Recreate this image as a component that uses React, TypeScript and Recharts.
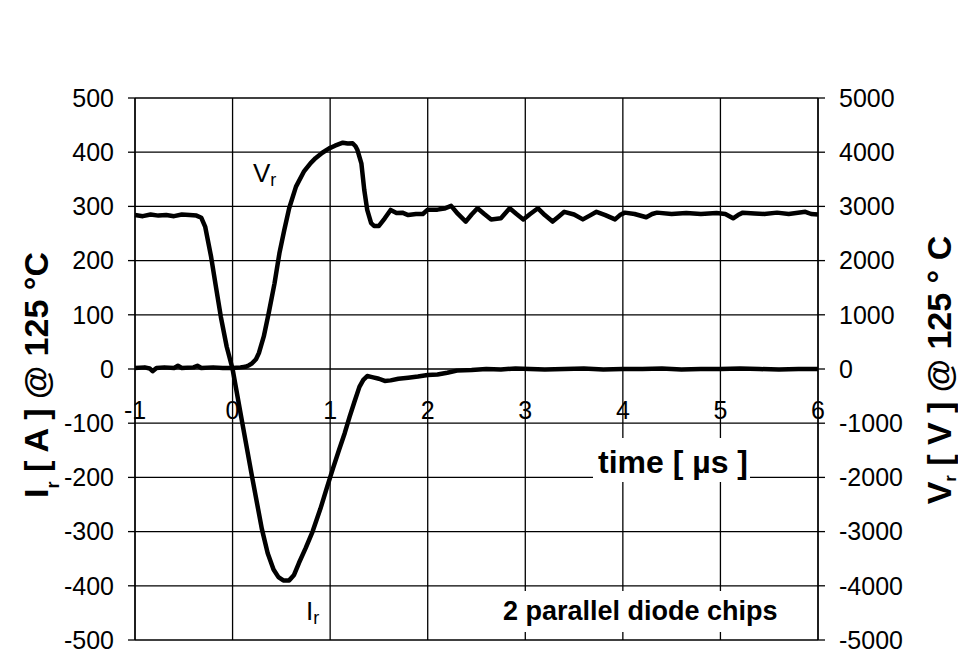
import { CartesianGrid, Line, LineChart, XAxis, YAxis } from "recharts";

const FONT = "'Liberation Sans', Arial, Helvetica, sans-serif";
const WIDTH = 958;
const HEIGHT = 660;
const TOP = 98;
const X_AXIS_H = 20;
const PLOT_H = HEIGHT - TOP - X_AXIS_H;

const timeTicks = [-1, 0, 1, 2, 3, 4, 5, 6];
const currentTicks = [-500, -400, -300, -200, -100, 0, 100, 200, 300, 400, 500];
const voltageTicks = [-5000, -4000, -3000, -2000, -1000, 0, 1000, 2000, 3000, 4000, 5000];

// [time µs, Ir A]
const currentTrace = [
  [-1, 284], [-0.92, 282], [-0.84, 285], [-0.76, 283], [-0.68, 284], [-0.6, 282],
  [-0.52, 285], [-0.44, 284], [-0.37, 283], [-0.32, 279], [-0.28, 262], [-0.22, 207],
  [-0.17, 151], [-0.12, 96], [-0.06, 41], [0, 0], [0.1, -100], [0.2, -199],
  [0.3, -295], [0.36, -340], [0.42, -370], [0.47, -384], [0.52, -390], [0.58, -390],
  [0.63, -380], [0.68, -358], [0.75, -330], [0.82, -300], [0.9, -258], [0.97, -217],
  [1.03, -183], [1.09, -150], [1.15, -118], [1.2, -88], [1.25, -60], [1.3, -33],
  [1.34, -20], [1.38, -13], [1.43, -15], [1.5, -18], [1.56, -22], [1.62, -21],
  [1.7, -18], [1.8, -16], [1.9, -14], [2.0, -11], [2.1, -10], [2.2, -7],
  [2.3, -3], [2.45, -2], [2.6, 0], [2.75, -1], [2.9, 1], [3.05, 0],
  [3.2, -1], [3.4, 0], [3.6, 1], [3.8, -1], [4.0, 0], [4.2, 0],
  [4.4, 1], [4.6, -1], [4.8, 0], [5.0, 0], [5.2, 1], [5.4, 0],
  [5.6, -1], [5.8, 0], [6.0, 0],
];

// [time µs, Vr V]
const voltageTrace = [
  [-1, 20], [-0.9, 30], [-0.85, 10], [-0.82, -40], [-0.78, 20], [-0.7, 30],
  [-0.6, 20], [-0.56, 60], [-0.52, 20], [-0.4, 30], [-0.36, 60], [-0.32, 20],
  [-0.2, 30], [-0.1, 20], [0, 20], [0.08, 30], [0.13, 40], [0.17, 70],
  [0.2, 105], [0.24, 180], [0.27, 295], [0.32, 600], [0.37, 1030], [0.43, 1580],
  [0.48, 2135], [0.53, 2565], [0.58, 2965], [0.65, 3365], [0.73, 3640], [0.8, 3800],
  [0.85, 3890], [0.92, 3990], [0.99, 4070], [1.05, 4120], [1.13, 4175], [1.18, 4160],
  [1.23, 4165], [1.26, 4110], [1.28, 4040], [1.32, 3795], [1.35, 3300], [1.38, 2935],
  [1.42, 2690], [1.45, 2640], [1.5, 2640], [1.56, 2780], [1.62, 2935], [1.68, 2880],
  [1.74, 2885], [1.8, 2840], [1.88, 2860], [1.95, 2860], [2.0, 2940], [2.1, 2940],
  [2.17, 2960], [2.24, 3010], [2.31, 2860], [2.39, 2720], [2.45, 2850], [2.51, 2965],
  [2.58, 2860], [2.65, 2760], [2.75, 2780], [2.84, 2965], [2.91, 2860], [2.98, 2760],
  [3.05, 2860], [3.13, 2965], [3.2, 2840], [3.28, 2720], [3.34, 2810], [3.4, 2900],
  [3.5, 2850], [3.59, 2760], [3.66, 2830], [3.73, 2900], [3.82, 2840], [3.92, 2760],
  [3.97, 2840], [4.02, 2885], [4.12, 2860], [4.24, 2800], [4.3, 2860], [4.35, 2885],
  [4.5, 2860], [4.65, 2880], [4.8, 2860], [4.96, 2880], [5.05, 2860], [5.13, 2780],
  [5.18, 2840], [5.23, 2885], [5.35, 2870], [5.45, 2860], [5.58, 2885], [5.7, 2860],
  [5.87, 2900], [5.93, 2860], [6.0, 2850],
];

const currentData = currentTrace.map(([t, ir]) => ({ t, ir }));
const voltageData = voltageTrace.map(([t, vr]) => ({ t, vr }));

const tickStyle = { fill: "#000", fontSize: 25, fontFamily: FONT };

// time labels sit just under the zero line, like the original sheet
function TimeTick(props: any) {
  const { x, y, payload } = props;
  const lift = PLOT_H / 2 - 50;
  return (
    <text x={x} y={y - lift} textAnchor="middle" fill="#000" fontSize={25} fontFamily={FONT}>
      {payload.value}
    </text>
  );
}

export default function App() {
  return (
    <div style={{ position: "absolute", left: 0, top: 0, width: WIDTH, height: HEIGHT, background: "#fff" }}>
      <LineChart width={WIDTH} height={HEIGHT} margin={{ top: TOP, right: 0, bottom: 0, left: 0 }}>
        <CartesianGrid yAxisId="left" stroke="#000" strokeWidth={1.3} />
        <XAxis
          dataKey="t"
          type="number"
          domain={[-1, 6]}
          ticks={timeTicks}
          interval={0}
          height={X_AXIS_H}
          axisLine={false}
          tickLine={false}
          tickSize={0}
          tickMargin={0}
          tick={<TimeTick />}
        />
        <YAxis
          yAxisId="left"
          type="number"
          domain={[-500, 500]}
          ticks={currentTicks}
          interval={0}
          width={135}
          axisLine={{ stroke: "#000", strokeWidth: 1.3 }}
          tickLine={{ stroke: "#000", strokeWidth: 1.3 }}
          tickSize={7}
          tickMargin={14}
          tick={tickStyle}
        />
        <YAxis
          yAxisId="right"
          orientation="right"
          type="number"
          domain={[-5000, 5000]}
          ticks={voltageTicks}
          interval={0}
          width={140}
          axisLine={{ stroke: "#000", strokeWidth: 1.3 }}
          tickLine={{ stroke: "#000", strokeWidth: 1.3 }}
          tickSize={7}
          tickMargin={14}
          tick={tickStyle}
        />
        <Line
          yAxisId="left"
          data={currentData}
          dataKey="ir"
          type="linear"
          stroke="#000"
          strokeWidth={4.5}
          strokeLinejoin="round"
          dot={false}
          isAnimationActive={false}
        />
        <Line
          yAxisId="right"
          data={voltageData}
          dataKey="vr"
          type="linear"
          stroke="#000"
          strokeWidth={4.5}
          strokeLinejoin="round"
          dot={false}
          isAnimationActive={false}
        />
      </LineChart>
      <svg
        width={WIDTH}
        height={HEIGHT}
        style={{ position: "absolute", left: 0, top: 0, pointerEvents: "none" }}
        fontFamily={FONT}
      >
        <text transform="translate(48,375) rotate(-90)" textAnchor="middle" fontSize={34} fontWeight="bold">
          I<tspan fontSize={18} dy={11}>r</tspan>
          <tspan dy={-11}> [ A ] @ 125 °C</tspan>
        </text>
        <text transform="translate(951,370) rotate(-90)" textAnchor="middle" fontSize={34} fontWeight="bold">
          V<tspan fontSize={16} dy={5}>r</tspan>
          <tspan dy={-5}> [ V ] @ 125 ° C</tspan>
        </text>
        <text x={253} y={182} fontSize={26}>
          V<tspan fontSize={18} dy={4}>r</tspan>
        </text>
        <text x={306} y={620} fontSize={26}>
          I<tspan fontSize={18} dy={4}>r</tspan>
        </text>
        <rect x={593} y={438} width={157} height={44} fill="#fff" />
        <text x={673} y={473} textAnchor="middle" fontSize={32} fontWeight="bold">
          time [ µs ]
        </text>
        <rect x={500} y={591} width={282} height={41} fill="#fff" />
        <text x={503} y={620} fontSize={27} fontWeight="bold">
          2 parallel diode chips
        </text>
      </svg>
    </div>
  );
}
